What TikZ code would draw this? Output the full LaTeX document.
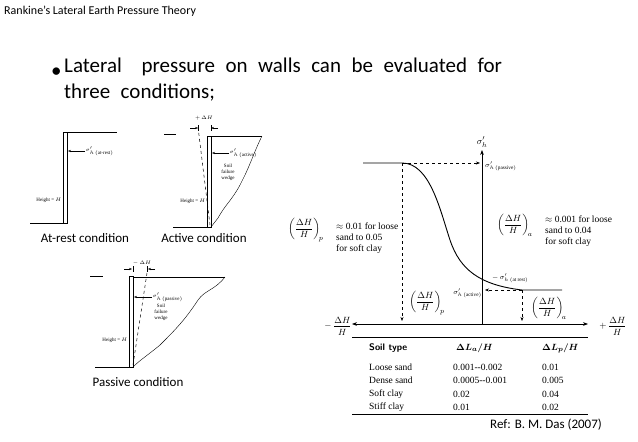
\documentclass[tikz,border=0pt]{standalone}
\usepackage{amsmath}
\usepackage{fontspec}
\setmainfont{Carlito}
\newfontfamily\serf{Liberation Serif}
\usetikzlibrary{arrows.meta}
\begin{document}
\begin{tikzpicture}[x=1pt,y=-1pt,
  lbl/.style={font=\serf\fontsize{5}{6}\selectfont,inner sep=0.5pt},
  glbl/.style={font=\serf\fontsize{9.5}{11}\selectfont,inner sep=1pt,align=left},
  captxt/.style={font=\fontsize{13}{15}\selectfont,inner sep=0pt},
  wall/.style={draw,line width=0.6pt},
  dsh/.style={dashed,line width=0.5pt},
  arr/.style={-{Stealth[length=3pt]},line width=0.5pt},
  ax/.style={{Stealth[length=5pt]}-{Stealth[length=5pt]},line width=0.8pt}]
\useasboundingbox (0,0) rectangle (638,442);
\node[anchor=west,font=\fontsize{12}{14}\selectfont,inner sep=0pt] (title) at (4,11) {Rankine’s Lateral Earth Pressure Theory};
\node[anchor=west,font=\fontsize{21}{26}\selectfont,inner sep=0pt] (b) at (51,73) {\textbullet};
\node[anchor=north west,font=\fontsize{21}{26}\selectfont,inner sep=0pt,align=left,text width=500pt] (bul) at (64,58) {Lateral\hspace{0.6em} pressure\, on\, walls\, can\, be\, evaluated\, for\\three\, conditions;};
% at-rest
\draw[wall] (63,132) rectangle (67,223);
\draw (67,132) -- (117,132);
\draw (30,223) -- (63,223);
\coordinate (r1) at (68,151);
\node[lbl,anchor=west] (rs) at (85,151) {$\sigma'_{h\,(\text{at-rest})}$};
\draw[arr] (rs.west) -- (r1);
\node[lbl,anchor=east] (rh) at (62,200) {Height = $H$};
\node[captxt] (c1) at (85,238) {At-rest condition};
% active
\draw[wall] (207,136) rectangle (211,227);
\draw (211,136) -- (262,136);
\draw (164,134) -- (176,134);
\draw (173,227) -- (207,227);
\draw (262,136) .. controls (255,150) and (252,160) .. (245,175) -- (240,185) .. controls (232,200) and (225,205) .. (218,218) -- (211,227);
\draw[dsh] (198,127) -- (210,225);
\node[lbl] (ad) at (204,118) {$+\,\Delta H$};
\draw[arr] (190,128) -- (198,128);
\draw[arr] (218,128) -- (211,128);
\draw (198,125)--(198,131) (211,125)--(211,131);
\node[lbl,anchor=west] (as) at (229,153) {$\sigma'_{h\,(\text{active})}$};
\draw[arr] (as.west) -- (212,153);
\node[lbl,align=center] (aw) at (228,172) {Soil\\failure\\wedge};
\node[lbl,anchor=east] (ah) at (206,201) {Height = $H$};
\node[captxt] (c2) at (204,238) {Active condition};
% passive
\draw[wall] (129,276) rectangle (133,367);
\draw (133,277) -- (225,277);
\draw (90,276) -- (103,276);
\draw (95,367) -- (129,367);
\draw (225,277) .. controls (215,290) and (205,290) .. (198,300) .. controls (185,320) and (175,330) .. (160,345) .. controls (148,355) and (140,360) .. (133,367);
\draw[dsh] (147,273) -- (133,365);
\node[lbl] (pd) at (142,263) {$-\,\Delta H$};
\draw[arr] (124,269) -- (132,269);
\draw[arr] (155,269) -- (148,269);
\draw (133,266)--(133,272) (147,266)--(147,272);
\node[lbl,anchor=west] (ps) at (152,297) {$\sigma'_{h\,(\text{passive})}$};
\draw[arr] (ps.west) -- (134,297);
\node[lbl,align=center] (pw) at (161,312) {Soil\\failure\\wedge};
\node[lbl,anchor=east] (ph) at (128,340) {Height = $H$};
\node[captxt] (c3) at (138,382) {Passive condition};
% graph
\coordinate (O) at (482,324);
\coordinate (L) at (352,324);
\coordinate (R) at (588,324);
\draw[ax] (L) -- (R);
\draw[-{Stealth[length=5pt]},line width=0.8pt] (O) -- (482,150) coordinate (T);
\node[glbl] (sig) at (482,142) {$\sigma'_h$};
\node[glbl] (xl) at (338,326) {$-\,\dfrac{\Delta H}{H}$};
\node[glbl] (xr) at (613,326) {$+\,\dfrac{\Delta H}{H}$};
\coordinate (P) at (402,163);
\coordinate (A) at (522,290);
\draw[line width=0.9pt] (363,163) -- (P) .. controls (430,163) and (440,210) .. (450,240) .. controls (460,270) and (480,285) .. (A) -- (562,290);
\draw[dsh,-{Stealth[length=4pt]}] (P) -- (480,163);
\draw[dsh,-{Stealth[length=4pt]}] (P) -- (402,321);
\draw[dsh,-{Stealth[length=4pt]}] (A) -- (485,290);
\draw[dsh,-{Stealth[length=4pt]}] (A) -- (522,321);
\node[glbl,anchor=west,font=\serf\fontsize{7.5}{9}\selectfont] (sp) at (484,166) {$\sigma'_{h\,(\text{passive})}$};
\node[glbl,anchor=west,font=\serf\fontsize{7.5}{9}\selectfont] (sr) at (491,278) {$-\,\sigma'_{h\,(\text{at rest})}$};
\node[glbl,anchor=east,font=\serf\fontsize{7.5}{9}\selectfont] (sa) at (483,293) {$\sigma'_{h\,(\text{active})}$};
\node[glbl,anchor=west] (np) at (287,230) {$\left(\dfrac{\Delta H}{H}\right)_{\!p}$};
\node[glbl,anchor=north west] (tp) at (335,222) {$\approx$ 0.01 for loose\\sand to 0.05\\for soft clay};
\node[glbl,anchor=west] (na) at (496,225) {$\left(\dfrac{\Delta H}{H}\right)_{\!a}$};
\node[glbl,anchor=north west] (ta) at (544,215) {$\approx$ 0.001 for loose\\sand to 0.04\\for soft clay};
\node[glbl] (np2) at (427,303) {$\left(\dfrac{\Delta H}{H}\right)_{\!p}$};
\node[glbl] (na2) at (549,308) {$\left(\dfrac{\Delta H}{H}\right)_{\!a}$};
% table
\draw[line width=0.5pt] (352,337) -- (588,337);
\draw[line width=0.5pt] (352,414) -- (588,414);
\begin{scope}[every node/.style={glbl,anchor=west,font=\serf\fontsize{9.5}{11}\selectfont}]
\node (h1) at (368,348) {\textbf{\sffamily Soil type}};
\node (h2) at (455,348) {$\boldsymbol{\Delta L_a/H}$};
\node (h3) at (541,348) {$\boldsymbol{\Delta L_p/H}$};
\node (a1) at (368,367) {Loose sand};
\node (a2) at (368,380) {Dense sand};
\node (a3) at (368,394) {Soft clay};
\node (a4) at (368,407) {Stiff clay};
\node (b1) at (452,367) {0.001--0.002};
\node (b2) at (452,380) {0.0005--0.001};
\node (b3) at (452,394) {0.02};
\node (b4) at (452,407) {0.01};
\node (d1) at (541,367) {0.01};
\node (d2) at (541,380) {0.005};
\node (d3) at (541,394) {0.04};
\node (d4) at (541,407) {0.02};
\end{scope}
\node[anchor=west,font=\fontsize{13}{15}\selectfont,inner sep=0pt] (ref) at (490,425) {Ref: B. M. Das (2007)};
\end{tikzpicture}
\end{document}
